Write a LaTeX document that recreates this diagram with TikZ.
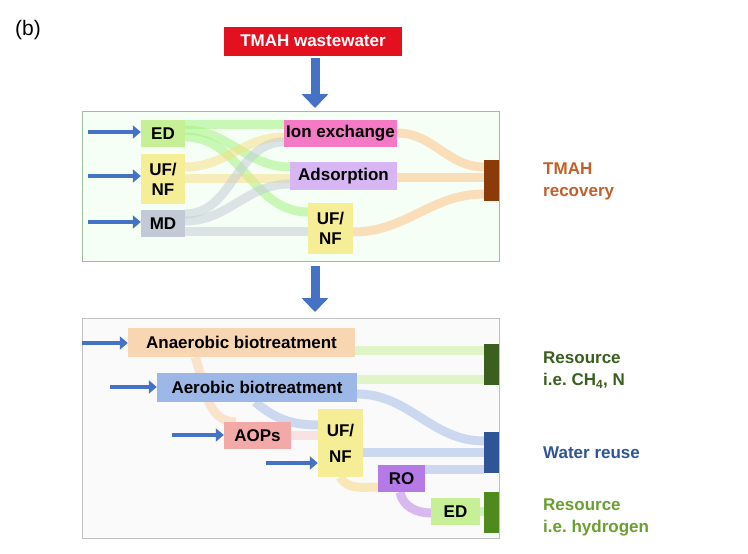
\documentclass[tikz,border=0pt]{standalone}
\usepackage{fontspec}
\setmainfont{Liberation Sans}
\usetikzlibrary{arrows.meta}
\frenchspacing
\definecolor{cRed}{HTML}{E3101F}
\definecolor{cBlue}{HTML}{4472C4}
\definecolor{cGreenL}{HTML}{C6EF96}
\definecolor{cYel}{HTML}{F6EE96}
\definecolor{cGray}{HTML}{C2CAD6}
\definecolor{cPink}{HTML}{F57AC6}
\definecolor{cLav}{HTML}{D8B6F4}
\definecolor{cPeach}{HTML}{F9D6B2}
\definecolor{cAer}{HTML}{9DB7E6}
\definecolor{cAOP}{HTML}{F4A9A9}
\definecolor{cRO}{HTML}{B57AE8}
\definecolor{cBrown}{HTML}{8B3A0A}
\definecolor{cTmah}{HTML}{C0602A}
\definecolor{cDG}{HTML}{3A5F1E}
\definecolor{cWB}{HTML}{2F5597}
\definecolor{cGG}{HTML}{4E8A1C}
\definecolor{cGT}{HTML}{6AA030}
\begin{document}
\frenchspacing
\begin{tikzpicture}[x=1pt,y=-1pt,
  box/.style={inner sep=0pt,font=\bfseries\fontsize{17}{20}\selectfont,align=center},
  bar/.style={inner sep=0pt,minimum width=15pt},
  flow/.style={line width=9pt,opacity=0.5},
  inarr/.style={draw=cBlue,line width=4pt,-{Triangle[length=8pt,width=13pt]}},
  bigarr/.style={draw=cBlue,line width=9pt,-{Triangle[length=14pt,width=26pt]}},
  lab/.style={font=\bfseries\fontsize{17}{22}\selectfont,align=left,anchor=west,inner sep=0pt}]
\useasboundingbox (0,0) rectangle (748,554);
\fill[white] (0,0) rectangle (748,554);
\node[font=\fontsize{21}{24}\selectfont,anchor=west,inner sep=0] (b) at (15,30) {(b)};
\node[box,fill=cRed,text=white,minimum width=178pt,minimum height=29pt] (tw) at (313,41) {TMAH wastewater};
% panels
\node[draw=black!25!green!30!gray!60,fill=green!4!white,minimum width=417pt,minimum height=150pt,inner sep=0] (p1) at (290.5,186) {};
\node[draw=gray!50,fill=gray!4,minimum width=417pt,minimum height=220pt,inner sep=0] (p2) at (290.5,428) {};
\coordinate (a1s) at (315,58); \coordinate (a1e) at (315,108);
\draw[bigarr] (a1s) -- (a1e);
\coordinate (a2s) at (315,266); \coordinate (a2e) at (315,312);
\draw[bigarr] (a2s) -- (a2e);
% top nodes (positions)
\coordinate (ED) at (163,133.5);
\coordinate (UF) at (163,179);
\coordinate (MD) at (163,223.5);
\coordinate (IX) at (340.5,133.5);
\coordinate (AD) at (343.5,176);
\coordinate (UF2) at (330.5,228.5);
% top flows
\draw[flow,cGreenL!80!green] (185,124) -- (284,124);
\draw[flow,cGreenL!80!green] (185,130) to[out=0,in=180] (290,167);
\draw[flow,cGreenL!80!green] (185,137) to[out=0,in=180] (308,212);
\draw[flow,cYel!85!orange] (185,167) to[out=0,in=180] (284,137);
\draw[flow,cYel!85!orange] (185,178) -- (290,178);
\draw[flow,cGray] (185,214) to[out=0,in=180] (284,142);
\draw[flow,cGray] (185,221) to[out=0,in=180] (290,184);
\draw[flow,cGray] (185,231) -- (308,231);
\draw[flow,orange!50] (397,133) to[out=0,in=180] (484,167);
\draw[flow,orange!50] (397,177) -- (484,177);
\draw[flow,orange!50] (353,232) to[out=0,in=180] (484,194);
% top boxes
\node[box,fill=cGreenL,minimum width=44pt,minimum height=27pt] (ed) at (ED) {ED};
\node[box,fill=cYel,minimum width=44pt,minimum height=50pt] (uf) at (UF) {UF/\\NF};
\node[box,fill=cGray,minimum width=44pt,minimum height=27pt] (md) at (MD) {MD};
\node[box,fill=cPink,minimum width=113pt,minimum height=27pt] (ix) at (IX) {Ion exchange};
\node[box,fill=cLav,minimum width=107pt,minimum height=28pt] (ad) at (AD) {Adsorption};
\node[box,fill=cYel,minimum width=45pt,minimum height=51pt] (uf2) at (UF2) {UF/\\NF};
\node[bar,fill=cBrown,minimum height=41pt] (tb) at (491.5,180.5) {};
\node[lab,text=cTmah] (tl) at (543,181.5) {TMAH\\recovery};
\coordinate (i1) at (88,132); \coordinate (i2) at (88,176); \coordinate (i3) at (88,222);
\draw[inarr] (i1) -- (i1-|ed.west);
\draw[inarr] (i2) -- (i2-|uf.west);
\draw[inarr] (i3) -- (i3-|md.west);
% bottom flows
\draw[flow,cGreenL] (355,350) -- (484,350);
\draw[flow,cGreenL] (357,379) -- (484,379);
\draw[flow,cPeach!90!orange] (195,357) to[out=-70,in=180] (236,422);
\draw[flow,cAer] (255,402) to[out=-40,in=180] (318,425);
\draw[flow,cAer] (357,394) to[out=0,in=180] (484,441);
\draw[flow,cAOP!60] (291,435) -- (318,435);
\draw[flow,cAer] (363,452) -- (484,452);
\draw[flow,cAer] (425,469) -- (484,469);
\draw[flow,cYel!80!orange] (340,477) to[out=-60,in=180] (378,487);
\draw[flow,cRO] (400,492) to[out=-80,in=180] (431,513);
\draw[flow,cGreenL!80!green] (480,511) -- (484,511);
% bottom boxes
\node[box,fill=cPeach,minimum width=227pt,minimum height=29pt] (an) at (241.5,342.5) {Anaerobic biotreatment};
\node[box,fill=cAer,minimum width=200pt,minimum height=29pt] (ae) at (257,387.5) {Aerobic biotreatment};
\node[box,fill=cAOP,minimum width=67pt,minimum height=27pt] (ao) at (257.5,435.5) {AOPs};
\node[box,fill=cYel,minimum width=45pt,minimum height=68pt] (uf3) at (340.5,443) {UF/\\[6pt]NF};
\node[box,fill=cRO,minimum width=47pt,minimum height=27pt] (ro) at (401.5,478.5) {RO};
\node[box,fill=cGreenL,minimum width=49pt,minimum height=27pt] (ed2) at (455.5,511.5) {ED};
\node[bar,fill=cDG,minimum height=41pt] (b1) at (491.5,364.5) {};
\node[bar,fill=cWB,minimum height=41pt] (b2) at (491.5,452.5) {};
\node[bar,fill=cGG,minimum height=41pt] (b3) at (491.5,512.5) {};
\node[lab,text=cDG] (l1) at (543,370) {Resource\\i.e. CH\textsubscript{4}, N};
\node[lab,text=cWB] (l2) at (543,453) {Water reuse};
\node[lab,text=cGT] (l3) at (543,517) {Resource\\i.e. hydrogen};
\coordinate (j1) at (82,343); \coordinate (j2) at (110,387);
\coordinate (j3) at (172,435); \coordinate (j4) at (266,463);
\draw[inarr] (j1) -- (j1-|an.west);
\draw[inarr] (j2) -- (j2-|ae.west);
\draw[inarr] (j3) -- (j3-|ao.west);
\draw[inarr] (j4) -- (j4-|uf3.west);
\end{tikzpicture}
\end{document}
